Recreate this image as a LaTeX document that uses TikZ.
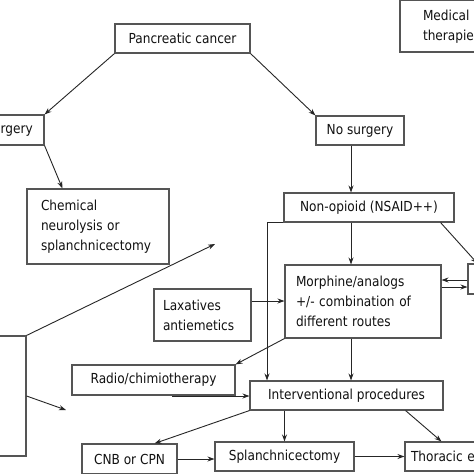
\documentclass[tikz,border=0pt]{standalone}
\usepackage{fontspec}
\setmainfont{DejaVu Sans}[FakeStretch=0.88]
\usetikzlibrary{arrows.meta,calc}
\definecolor{boxc}{HTML}{555555}
\definecolor{linec}{HTML}{262626}
\definecolor{txt}{HTML}{111111}
\begin{document}
\begin{tikzpicture}[x=1pt,y=-1pt,
  box/.style={draw=boxc, line width=1.1pt, text=txt, inner sep=0pt, font=\fontsize{13.8}{20}\selectfont},
  lbox/.style={box, align=left},
  arr/.style={draw=linec, line width=0.9pt, -{Stealth[length=7pt,width=5pt]}}]
\useasboundingbox (0,0) rectangle (474,474);
\fill[white] (0,0) rectangle (474,474);
\clip (0,0) rectangle (474,474);

\node[box, minimum width=135pt, minimum height=29pt] (pc) at (182.5,38.5) {Pancreatic cancer};
\node[box, minimum width=70pt, minimum height=30pt] (surg) at (9,130) {Surgery};
\node[box, minimum width=88pt, minimum height=29pt] (nosurg) at (360,130.5) {No surgery};
\node[lbox, text width=114pt, inner xsep=14pt, minimum height=75pt] (chem) at (98,226.5) {Chemical\\neurolysis or\\splanchnicectomy};
\node[lbox, text width=60pt, inner xsep=23pt, minimum height=51.5pt] (med) at (453,26.25) {Medical\\therapies};
\node[box, minimum width=170pt, minimum height=29pt] (nono) at (369,207.5) {Non-opioid (NSAID++)};
\node[lbox, text width=134pt, inner xsep=11pt, minimum height=73pt] (morph) at (363,301.5) {Morphine/analogs\\+/- combination of\\different routes};
\node[box, minimum width=52pt, minimum height=30pt] (rbox) at (494,279) {};
\node[lbox, text width=79pt, inner xsep=9pt, minimum height=52pt] (lax) at (202.5,315) {Laxatives\\antiemetics};
\node[box, minimum width=163pt, minimum height=30pt] (radio) at (153.5,380) {Radio/chimiotherapy};
\node[box, minimum width=193pt, minimum height=29pt] (interv) at (346.5,395.5) {Interventional procedures};
\node[box, minimum width=56pt, minimum height=120pt] (ltall) at (-2,396) {};
\node[box, minimum width=95pt, minimum height=30pt] (cnb) at (129.5,459) {CNB or CPN};
\node[box, minimum width=139pt, minimum height=29pt] (splan) at (284.5,456.5) {Splanchnicectomy};
\node[lbox, text width=100pt, inner xsep=6pt, minimum height=29pt] (thor) at (461,456.5) {Thoracic e};

\coordinate (vx) at (351,0);
\coordinate (lx) at (267,0);
\coordinate (yu) at (0,280);
\coordinate (yd) at (0,287);
\coordinate (yl) at (0,301);
\coordinate (yr) at (0,396);
\coordinate (f1) at (215,244);
\coordinate (f2) at (66,410);
\coordinate (f3) at (172,396);

\draw[arr] (pc.south west) -- (surg.north east);
\draw[arr] (pc.south east) -- (nosurg.north west);
\draw[arr] (surg.south east) -- ($(chem.north west)+(36,0)$);
\draw[arr] (nosurg.south -| vx) -- (nono.north -| vx);
\draw[arr] (nono.south -| vx) -- (morph.north -| vx);
\draw[arr] (morph.south -| vx) -- (interv.north -| vx);
\draw[arr] (nono.south west) -- (nono.south west -| lx) -- (interv.north -| lx);
\draw[arr] ($(nono.south east)+(-14,0)$) -- ($(rbox.north west)+(10,0)$);
\draw[arr] (rbox.west |- yu) -- (morph.east |- yu);
\draw[arr] (morph.east |- yd) -- (rbox.west |- yd);
\draw[arr] (lax.east |- yl) -- (morph.west |- yl);
\draw[arr] (morph.south west) -- (radio.north east);
\draw[arr] (f3) -- (interv.west |- f3);
\draw[arr] (interv.south west) -- ($(cnb.north)+(25,0)$);
\draw[arr] (cnb.east) -- (splan.west |- cnb.east);
\draw[arr] (interv.south -| splan.north) -- (splan.north);
\draw[arr] (splan.east) -- (thor.west);
\draw[arr] ($(interv.south east)+(-38,0)$) -- ($(thor.north west)+(37,0)$);
\draw[arr] (ltall.north east) -- (f1);
\draw[arr] (ltall.east |- yr) -- (f2);
\end{tikzpicture}
\end{document}
